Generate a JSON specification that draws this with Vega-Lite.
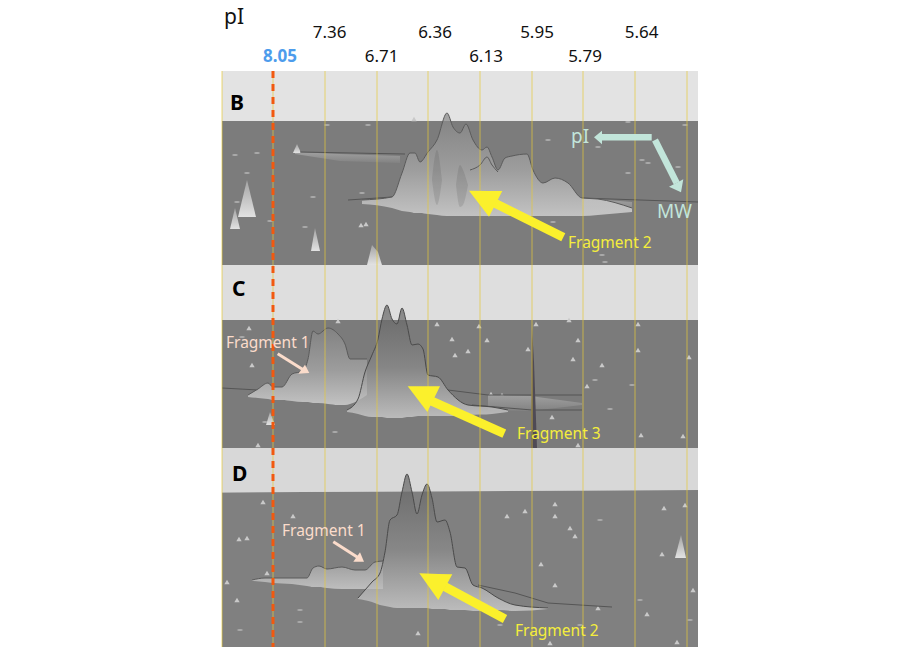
{
  "$schema": "https://vega.github.io/schema/vega-lite/v6.json",
  "description": "Three 3D 2-DE gel panels with pI positions and annotated fragments.",
  "width": 900,
  "height": 650,
  "padding": 0,
  "autosize": {"type": "fit", "contains": "padding"},
  "background": "white",
  "config": {"view": {"stroke": null}},
  "datasets": {
    "panels": [
      {"zone": "B top", "x": 222, "y": 71, "b": 121},
      {"zone": "B top", "x": 698, "y": 71, "b": 121},
      {"zone": "B gel", "x": 222, "y": 121, "b": 265},
      {"zone": "B gel", "x": 698, "y": 121, "b": 265},
      {"zone": "C top", "x": 222, "y": 265, "b": 320},
      {"zone": "C top", "x": 698, "y": 265, "b": 320},
      {"zone": "C gel", "x": 222, "y": 320, "b": 448},
      {"zone": "C gel", "x": 698, "y": 320, "b": 448},
      {"zone": "D top", "x": 222, "y": 448, "b": 492.5},
      {"zone": "D top", "x": 698, "y": 448, "b": 490},
      {"zone": "D gel", "x": 222, "y": 492.5, "b": 647},
      {"zone": "D gel", "x": 698, "y": 490, "b": 647}
    ],
    "bands": [
      {"id": "b1", "x": 295, "y": 152, "b": 154},
      {"id": "b1", "x": 340, "y": 154, "b": 161},
      {"id": "b1", "x": 400, "y": 156, "b": 163},
      {"id": "b2", "x": 582, "y": 198, "b": 216},
      {"id": "b2", "x": 632, "y": 202, "b": 212},
      {"id": "b4", "x": 488, "y": 395, "b": 410},
      {"id": "b4", "x": 530, "y": 396, "b": 411},
      {"id": "b4", "x": 582, "y": 403, "b": 405}
    ],
    "lowPeaks": [
      {"id": "B1", "x": 362, "y": 200, "b": 204},
      {"id": "B1", "x": 392, "y": 197, "b": 208},
      {"id": "B1", "x": 402, "y": 173, "b": 211},
      {"id": "B1", "x": 410, "y": 153, "b": 212},
      {"id": "B1", "x": 415, "y": 153, "b": 213},
      {"id": "B1", "x": 420, "y": 162, "b": 213},
      {"id": "B1", "x": 428, "y": 152, "b": 214},
      {"id": "B1", "x": 437, "y": 140, "b": 215},
      {"id": "B1", "x": 447, "y": 113, "b": 216},
      {"id": "B1", "x": 453, "y": 127, "b": 216},
      {"id": "B1", "x": 460, "y": 133, "b": 216},
      {"id": "B1", "x": 466, "y": 124, "b": 216},
      {"id": "B1", "x": 473, "y": 140, "b": 216},
      {"id": "B1", "x": 482, "y": 150, "b": 216},
      {"id": "B1", "x": 487, "y": 147, "b": 216},
      {"id": "B1", "x": 492, "y": 157, "b": 216},
      {"id": "B1", "x": 498, "y": 170, "b": 216},
      {"id": "B1", "x": 505, "y": 158, "b": 216},
      {"id": "B1", "x": 512, "y": 156, "b": 216},
      {"id": "B1", "x": 527, "y": 154, "b": 216},
      {"id": "B1", "x": 533, "y": 170, "b": 216},
      {"id": "B1", "x": 543, "y": 183, "b": 216},
      {"id": "B1", "x": 555, "y": 178, "b": 216},
      {"id": "B1", "x": 568, "y": 183, "b": 216},
      {"id": "B1", "x": 582, "y": 198, "b": 216},
      {"id": "B1", "x": 598, "y": 199, "b": 215},
      {"id": "B1", "x": 632, "y": 208, "b": 212},
      {"id": "C1", "x": 248, "y": 395, "b": 397},
      {"id": "C1", "x": 258, "y": 389, "b": 398},
      {"id": "C1", "x": 268, "y": 383, "b": 399},
      {"id": "C1", "x": 273, "y": 387, "b": 400},
      {"id": "C1", "x": 282, "y": 387, "b": 400},
      {"id": "C1", "x": 292, "y": 374, "b": 401},
      {"id": "C1", "x": 303, "y": 371, "b": 402},
      {"id": "C1", "x": 308, "y": 359, "b": 402},
      {"id": "C1", "x": 313, "y": 331, "b": 403},
      {"id": "C1", "x": 318, "y": 334, "b": 403},
      {"id": "C1", "x": 328, "y": 328, "b": 404},
      {"id": "C1", "x": 338, "y": 334, "b": 405},
      {"id": "C1", "x": 345, "y": 344, "b": 405},
      {"id": "C1", "x": 350, "y": 359, "b": 404},
      {"id": "C1", "x": 367, "y": 359, "b": 395}
    ],
    "paleFragment": [
      {"x": 252, "y": 580, "b": 581},
      {"x": 265, "y": 578, "b": 582},
      {"x": 273, "y": 578, "b": 583},
      {"x": 292, "y": 578, "b": 584},
      {"x": 307, "y": 578, "b": 586},
      {"x": 313, "y": 568, "b": 587},
      {"x": 319, "y": 566, "b": 587},
      {"x": 327, "y": 569, "b": 588},
      {"x": 342, "y": 567, "b": 589},
      {"x": 355, "y": 570, "b": 589},
      {"x": 365, "y": 570, "b": 589},
      {"x": 375, "y": 562, "b": 589},
      {"x": 383, "y": 561, "b": 589}
    ],
    "highPeaks": [
      {"id": "C2", "x": 347, "y": 410, "b": 412},
      {"id": "C2", "x": 358, "y": 399, "b": 414},
      {"id": "C2", "x": 365, "y": 372, "b": 416},
      {"id": "C2", "x": 372, "y": 355, "b": 417},
      {"id": "C2", "x": 378, "y": 339, "b": 417},
      {"id": "C2", "x": 382, "y": 319, "b": 417},
      {"id": "C2", "x": 387, "y": 305, "b": 418},
      {"id": "C2", "x": 392, "y": 319, "b": 418},
      {"id": "C2", "x": 397, "y": 324, "b": 418},
      {"id": "C2", "x": 402, "y": 308, "b": 418},
      {"id": "C2", "x": 407, "y": 325, "b": 417},
      {"id": "C2", "x": 412, "y": 345, "b": 417},
      {"id": "C2", "x": 418, "y": 344, "b": 416},
      {"id": "C2", "x": 423, "y": 349, "b": 416},
      {"id": "C2", "x": 428, "y": 375, "b": 416},
      {"id": "C2", "x": 438, "y": 377, "b": 416},
      {"id": "C2", "x": 448, "y": 390, "b": 416},
      {"id": "C2", "x": 468, "y": 405, "b": 415},
      {"id": "C2", "x": 492, "y": 407, "b": 414},
      {"id": "C2", "x": 508, "y": 410, "b": 412},
      {"id": "D2", "x": 358, "y": 598, "b": 599},
      {"id": "D2", "x": 372, "y": 582, "b": 602},
      {"id": "D2", "x": 380, "y": 573, "b": 605},
      {"id": "D2", "x": 385, "y": 552, "b": 606},
      {"id": "D2", "x": 390, "y": 520, "b": 607},
      {"id": "D2", "x": 397, "y": 515, "b": 608},
      {"id": "D2", "x": 402, "y": 492, "b": 608},
      {"id": "D2", "x": 407, "y": 474, "b": 608},
      {"id": "D2", "x": 412, "y": 492, "b": 608},
      {"id": "D2", "x": 417, "y": 514, "b": 608},
      {"id": "D2", "x": 422, "y": 495, "b": 608},
      {"id": "D2", "x": 427, "y": 484, "b": 608},
      {"id": "D2", "x": 432, "y": 498, "b": 609},
      {"id": "D2", "x": 437, "y": 522, "b": 609},
      {"id": "D2", "x": 445, "y": 520, "b": 609},
      {"id": "D2", "x": 450, "y": 532, "b": 610},
      {"id": "D2", "x": 457, "y": 567, "b": 610},
      {"id": "D2", "x": 465, "y": 568, "b": 610},
      {"id": "D2", "x": 473, "y": 585, "b": 611},
      {"id": "D2", "x": 482, "y": 588, "b": 611},
      {"id": "D2", "x": 498, "y": 598, "b": 610},
      {"id": "D2", "x": 515, "y": 605, "b": 611},
      {"id": "D2", "x": 548, "y": 608, "b": 609}
    ],
    "streaks": [
      {"id": "t1", "x": 456, "y": 185, "b": 185},
      {"id": "t1", "x": 460, "y": 165, "b": 207},
      {"id": "t1", "x": 463, "y": 170, "b": 205},
      {"id": "t1", "x": 468, "y": 185, "b": 185},
      {"id": "t3", "x": 432, "y": 180, "b": 180},
      {"id": "t3", "x": 437, "y": 150, "b": 205},
      {"id": "t3", "x": 442, "y": 180, "b": 180}
    ],
    "spikes": [
      {"id": "s1", "x": 238, "y": 217, "b": 217},
      {"id": "s1", "x": 247, "y": 180, "b": 217},
      {"id": "s1", "x": 256, "y": 217, "b": 217},
      {"id": "s2", "x": 230, "y": 229, "b": 229},
      {"id": "s2", "x": 235, "y": 208, "b": 229},
      {"id": "s2", "x": 240, "y": 229, "b": 229},
      {"id": "s3", "x": 311, "y": 251, "b": 251},
      {"id": "s3", "x": 315, "y": 228, "b": 251},
      {"id": "s3", "x": 320, "y": 251, "b": 251},
      {"id": "s4", "x": 367, "y": 265, "b": 265},
      {"id": "s4", "x": 372, "y": 245, "b": 265},
      {"id": "s4", "x": 378, "y": 252, "b": 265},
      {"id": "s4", "x": 382, "y": 265, "b": 265},
      {"id": "s5", "x": 293, "y": 153, "b": 153},
      {"id": "s5", "x": 297, "y": 144, "b": 153},
      {"id": "s5", "x": 301, "y": 153, "b": 153},
      {"id": "s6", "x": 266, "y": 425, "b": 425},
      {"id": "s6", "x": 270, "y": 412, "b": 425},
      {"id": "s6", "x": 275, "y": 425, "b": 425},
      {"id": "s7", "x": 675, "y": 558, "b": 558},
      {"id": "s7", "x": 681, "y": 535, "b": 558},
      {"id": "s7", "x": 686, "y": 558, "b": 558}
    ],
    "darkSpike": [
      {"x": 531, "y": 448, "b": 448},
      {"x": 532, "y": 327, "b": 448},
      {"x": 534, "y": 362, "b": 448},
      {"x": 537, "y": 448, "b": 448}
    ],
    "ridges": [
      {"id": "r1", "x": 300, "y": 152},
      {"id": "r1", "x": 405, "y": 154},
      {"id": "r2", "x": 348, "y": 200},
      {"id": "r2", "x": 392, "y": 197},
      {"id": "r3", "x": 582, "y": 198},
      {"id": "r3", "x": 698, "y": 202},
      {"id": "r4", "x": 222, "y": 388},
      {"id": "r4", "x": 258, "y": 390},
      {"id": "r5", "x": 448, "y": 390},
      {"id": "r5", "x": 488, "y": 395},
      {"id": "r5", "x": 582, "y": 395},
      {"id": "r6", "x": 472, "y": 405},
      {"id": "r6", "x": 532, "y": 410},
      {"id": "r6", "x": 582, "y": 410},
      {"id": "r7", "x": 478, "y": 585},
      {"id": "r7", "x": 515, "y": 593},
      {"id": "r7", "x": 548, "y": 603},
      {"id": "r7", "x": 612, "y": 607}
    ],
    "innerRidge": [
      {"x": 470, "y": 170},
      {"x": 480, "y": 165},
      {"x": 487, "y": 157},
      {"x": 492, "y": 165},
      {"x": 498, "y": 172}
    ],
    "cones": [
      {"x": 361, "y": 225}, {"x": 366, "y": 224}, {"x": 414, "y": 119},
      {"x": 249, "y": 328}, {"x": 258, "y": 445}, {"x": 552, "y": 417}, {"x": 602, "y": 365},
      {"x": 638, "y": 350}, {"x": 573, "y": 359}, {"x": 587, "y": 386}, {"x": 641, "y": 435},
      {"x": 578, "y": 445}, {"x": 683, "y": 436}, {"x": 689, "y": 357}, {"x": 455, "y": 355},
      {"x": 468, "y": 351}, {"x": 452, "y": 339}, {"x": 437, "y": 324}, {"x": 479, "y": 326},
      {"x": 536, "y": 324}, {"x": 569, "y": 320}, {"x": 638, "y": 324}, {"x": 491, "y": 394},
      {"x": 502, "y": 395}, {"x": 338, "y": 321}, {"x": 252, "y": 365}, {"x": 528, "y": 349},
      {"x": 578, "y": 340}, {"x": 487, "y": 340},
      {"x": 263, "y": 502}, {"x": 293, "y": 516}, {"x": 239, "y": 539}, {"x": 247, "y": 538},
      {"x": 227, "y": 582}, {"x": 507, "y": 516}, {"x": 525, "y": 511}, {"x": 555, "y": 516},
      {"x": 555, "y": 504}, {"x": 570, "y": 528}, {"x": 575, "y": 536}, {"x": 541, "y": 564},
      {"x": 598, "y": 608}, {"x": 647, "y": 614}, {"x": 664, "y": 508}, {"x": 685, "y": 505},
      {"x": 555, "y": 585}, {"x": 662, "y": 554}, {"x": 693, "y": 590}, {"x": 418, "y": 633},
      {"x": 550, "y": 643}, {"x": 677, "y": 642}, {"x": 237, "y": 600}, {"x": 267, "y": 573}
    ],
    "flecks": [
      {"x": 235, "y": 155}, {"x": 257, "y": 153}, {"x": 247, "y": 173}, {"x": 237, "y": 202},
      {"x": 270, "y": 221}, {"x": 305, "y": 227}, {"x": 362, "y": 193}, {"x": 368, "y": 125},
      {"x": 628, "y": 122}, {"x": 685, "y": 125}, {"x": 553, "y": 222}, {"x": 602, "y": 255},
      {"x": 605, "y": 262}, {"x": 642, "y": 160}, {"x": 648, "y": 163}, {"x": 628, "y": 173},
      {"x": 678, "y": 167}, {"x": 598, "y": 147}, {"x": 313, "y": 197}, {"x": 548, "y": 140},
      {"x": 327, "y": 125}, {"x": 242, "y": 337}, {"x": 595, "y": 380}, {"x": 632, "y": 385},
      {"x": 610, "y": 409}, {"x": 475, "y": 422}, {"x": 335, "y": 432}, {"x": 265, "y": 422},
      {"x": 240, "y": 630}, {"x": 300, "y": 622}, {"x": 500, "y": 625}, {"x": 580, "y": 625},
      {"x": 640, "y": 600}, {"x": 690, "y": 620}, {"x": 600, "y": 520}, {"x": 300, "y": 610}
    ],
    "gridlines": [
      {"x": 222, "y": 71, "y2": 647}, {"x": 273, "y": 71, "y2": 647}, {"x": 325, "y": 71, "y2": 647},
      {"x": 377, "y": 71, "y2": 647}, {"x": 428, "y": 71, "y2": 647}, {"x": 480, "y": 71, "y2": 647},
      {"x": 532, "y": 71, "y2": 647}, {"x": 583, "y": 71, "y2": 647}, {"x": 635, "y": 71, "y2": 647},
      {"x": 687, "y": 71, "y2": 647}
    ],
    "shafts": [
      {"x": 495, "y": 203.3, "x2": 563.3, "y2": 237.3},
      {"x": 430, "y": 400.3, "x2": 504.3, "y2": 433.7},
      {"x": 445, "y": 586.7, "x2": 505, "y2": 619}
    ],
    "heads": [
      {"id": "B", "x": 469, "y": 190.7, "b": 190.7},
      {"id": "B", "x": 489, "y": 190.9, "b": 216.7},
      {"id": "B", "x": 502.3, "y": 191, "b": 191},
      {"id": "C", "x": 407.7, "y": 386.3, "b": 386.3},
      {"id": "C", "x": 427.3, "y": 386.3, "b": 412},
      {"id": "C", "x": 440, "y": 386.3, "b": 386.3},
      {"id": "D", "x": 419.3, "y": 573.3, "b": 573.3},
      {"id": "D", "x": 438.3, "y": 573.9, "b": 600},
      {"id": "D", "x": 452.3, "y": 574.3, "b": 574.3}
    ],
    "pinkShafts": [
      {"x": 277.7, "y": 353.7, "x2": 306, "y2": 371.5},
      {"x": 333.3, "y": 541.7, "x2": 361, "y2": 559.5}
    ],
    "pinkHeads": [
      {"id": "C", "x": 298.3, "y": 373.7, "b": 373.7},
      {"id": "C", "x": 305, "y": 364.7, "b": 373.3},
      {"id": "C", "x": 309.3, "y": 373, "b": 373},
      {"id": "D", "x": 353.3, "y": 561.7, "b": 561.7},
      {"id": "D", "x": 360, "y": 552.3, "b": 561.7},
      {"id": "D", "x": 364, "y": 561.7, "b": 561.7}
    ],
    "mintShafts": [
      {"x": 651.7, "y": 137.3, "x2": 601, "y2": 137.3},
      {"x": 655, "y": 140, "x2": 676.7, "y2": 183}
    ],
    "mintHeads": [
      {"id": "left", "x": 594, "y": 137.3, "b": 137.3},
      {"id": "left", "x": 602, "y": 130.7, "b": 144.3},
      {"id": "down", "x": 669, "y": 186.7, "b": 186.7},
      {"id": "down", "x": 681, "y": 180.5, "b": 192.3},
      {"id": "down", "x": 683.3, "y": 179.3, "b": 179.3}
    ],
    "ticksTop": [
      {"x": 329.7, "y": 38, "label": "7.36"},
      {"x": 435, "y": 38, "label": "6.36"},
      {"x": 537, "y": 38, "label": "5.95"},
      {"x": 641.7, "y": 38, "label": "5.64"},
      {"x": 381.7, "y": 62, "label": "6.71"},
      {"x": 486, "y": 62, "label": "6.13"},
      {"x": 585, "y": 62, "label": "5.79"}
    ],
    "notesMajor": [
      {"x": 568, "y": 248, "label": "Fragment 2"},
      {"x": 517, "y": 439, "label": "Fragment 3"},
      {"x": 515, "y": 636, "label": "Fragment 2"}
    ],
    "notesMinor": [
      {"x": 226, "y": 348, "label": "Fragment 1"},
      {"x": 282, "y": 536, "label": "Fragment 1"}
    ],
    "directions": [
      {"x": 571, "y": 143, "label": "pI"},
      {"x": 657, "y": 218, "label": "MW"}
    ],
    "letters": [
      {"x": 230, "y": 110, "label": "B"},
      {"x": 232, "y": 296, "label": "C"},
      {"x": 232, "y": 481, "label": "D"}
    ]
  },
  "encoding": {
    "x": {"field": "x", "type": "quantitative", "scale": {"domain": [0, 900]}, "axis": null},
    "y": {"field": "y", "type": "quantitative", "scale": {"domain": [650, 0]}, "axis": null}
  },
  "layer": [
    {
      "data": {"name": "panels"},
      "mark": {"type": "area", "orient": "vertical"},
      "encoding": {
        "y2": {"field": "b"},
        "color": {
          "field": "zone",
          "type": "nominal",
          "legend": null,
          "scale": {
            "domain": ["B top", "B gel", "C top", "C gel", "D top", "D gel"],
            "range": ["#e3e3e3", "#7c7c7c", "#dedede", "#7b7b7b", "#d8d8d8", "#808080"]
          }
        }
      }
    },
    {
      "data": {"name": "flecks"},
      "mark": {"type": "point", "filled": true, "opacity": 1, "size": 45, "color": "#a9a9a9", "shape": "M-1,0L-0.4,-0.3L0.4,-0.3L1,0L0.4,0.3L-0.4,0.3Z"}
    },
    {
      "data": {"name": "cones"},
      "mark": {"type": "point", "filled": true, "opacity": 1, "size": 28, "color": "#c9c9c9", "shape": "triangle-up"}
    },
    {
      "data": {"name": "bands"},
      "mark": {
        "type": "area",
        "orient": "vertical",
        "color": {"gradient": "linear", "x1": 0, "y1": 0, "x2": 0, "y2": 1, "stops": [{"offset": 0, "color": "#a0a0a0"}, {"offset": 1, "color": "#828282"}]}
      },
      "encoding": {"y2": {"field": "b"}, "detail": {"field": "id"}}
    },
    {
      "data": {"name": "spikes"},
      "mark": {
        "type": "area",
        "orient": "vertical",
        "color": {"gradient": "linear", "x1": 0, "y1": 0, "x2": 0, "y2": 1, "stops": [{"offset": 0, "color": "#a4a4a4"}, {"offset": 1, "color": "#e2e2e2"}]}
      },
      "encoding": {"y2": {"field": "b"}, "detail": {"field": "id"}}
    },
    {
      "data": {"name": "ridges"},
      "mark": {"type": "line", "color": "#555555", "strokeWidth": 1},
      "encoding": {"detail": {"field": "id"}}
    },
    {
      "data": {"name": "lowPeaks"},
      "mark": {
        "type": "area",
        "orient": "vertical",
        "interpolate": "monotone",
        "line": {"color": "#5a5a5a", "strokeWidth": 1},
        "color": {"gradient": "linear", "x1": 0, "y1": 0, "x2": 0, "y2": 1, "stops": [{"offset": 0, "color": "#858585"}, {"offset": 0.55, "color": "#ababab"}, {"offset": 1, "color": "#e0e0e0"}]}
      },
      "encoding": {"y2": {"field": "b"}, "detail": {"field": "id"}}
    },
    {
      "data": {"name": "paleFragment"},
      "mark": {
        "type": "area",
        "orient": "vertical",
        "interpolate": "monotone",
        "line": {"color": "#5a5a5a", "strokeWidth": 1},
        "color": {"gradient": "linear", "x1": 0, "y1": 0, "x2": 0, "y2": 1, "stops": [{"offset": 0, "color": "#a8a8a8"}, {"offset": 1, "color": "#d8d8d8"}]}
      },
      "encoding": {"y2": {"field": "b"}}
    },
    {
      "data": {"name": "highPeaks"},
      "mark": {
        "type": "area",
        "orient": "vertical",
        "interpolate": "monotone",
        "line": {"color": "#4a4a4a", "strokeWidth": 1},
        "color": {"gradient": "linear", "x1": 0, "y1": 0, "x2": 0, "y2": 1, "stops": [{"offset": 0, "color": "#606060"}, {"offset": 0.55, "color": "#8a8a8a"}, {"offset": 1, "color": "#d6d6d6"}]}
      },
      "encoding": {"y2": {"field": "b"}, "detail": {"field": "id"}}
    },
    {
      "data": {"name": "streaks"},
      "mark": {"type": "area", "orient": "vertical", "interpolate": "monotone", "color": "#3c3c3c", "opacity": 0.14},
      "encoding": {"y2": {"field": "b"}, "detail": {"field": "id"}}
    },
    {
      "data": {"name": "innerRidge"},
      "mark": {"type": "line", "interpolate": "monotone", "color": "#5a5a5a", "strokeWidth": 1}
    },
    {
      "data": {"name": "darkSpike"},
      "mark": {"type": "area", "orient": "vertical", "color": "#4f4a55"},
      "encoding": {"y2": {"field": "b"}}
    },
    {
      "data": {"name": "gridlines"},
      "mark": {"type": "rule", "color": "#e6c93a", "strokeWidth": 1, "opacity": 0.7},
      "encoding": {"y2": {"field": "y2"}}
    },
    {
      "data": {"values": [{"x": 273, "y": 71, "y2": 647}]},
      "mark": {"type": "rule", "color": "#f2590f", "strokeWidth": 3, "strokeDash": [7, 6]},
      "encoding": {"y2": {"field": "y2"}}
    },
    {
      "data": {"name": "shafts"},
      "mark": {"type": "rule", "color": "#fbf02c", "strokeWidth": 9},
      "encoding": {"x2": {"field": "x2"}, "y2": {"field": "y2"}}
    },
    {
      "data": {"name": "heads"},
      "mark": {"type": "area", "orient": "vertical", "color": "#fbf02c"},
      "encoding": {"y2": {"field": "b"}, "detail": {"field": "id"}}
    },
    {
      "data": {"name": "pinkShafts"},
      "mark": {"type": "rule", "color": "#fbdccb", "strokeWidth": 3},
      "encoding": {"x2": {"field": "x2"}, "y2": {"field": "y2"}}
    },
    {
      "data": {"name": "pinkHeads"},
      "mark": {"type": "area", "orient": "vertical", "color": "#fbdccb"},
      "encoding": {"y2": {"field": "b"}, "detail": {"field": "id"}}
    },
    {
      "data": {"name": "mintShafts"},
      "mark": {"type": "rule", "color": "#c2e5da", "strokeWidth": 6.5},
      "encoding": {"x2": {"field": "x2"}, "y2": {"field": "y2"}}
    },
    {
      "data": {"name": "mintHeads"},
      "mark": {"type": "area", "orient": "vertical", "color": "#c2e5da"},
      "encoding": {"y2": {"field": "b"}, "detail": {"field": "id"}}
    },
    {
      "data": {"name": "ticksTop"},
      "mark": {"type": "text", "font": "Noto Sans", "fontSize": 17, "color": "#111111", "align": "center", "baseline": "alphabetic"},
      "encoding": {"text": {"field": "label"}}
    },
    {
      "data": {"values": [{"x": 280, "y": 62, "label": "8.05"}]},
      "mark": {"type": "text", "font": "Noto Sans", "fontSize": 17, "fontWeight": "bold", "color": "#4d9cec", "align": "center", "baseline": "alphabetic"},
      "encoding": {"text": {"field": "label"}}
    },
    {
      "data": {"values": [{"x": 224, "y": 24, "label": "pI"}]},
      "mark": {"type": "text", "font": "Noto Sans", "fontSize": 21, "color": "#111111", "align": "left", "baseline": "alphabetic"},
      "encoding": {"text": {"field": "label"}}
    },
    {
      "data": {"name": "letters"},
      "mark": {"type": "text", "font": "Noto Sans", "fontSize": 21, "fontWeight": "bold", "color": "#000000", "align": "left", "baseline": "alphabetic"},
      "encoding": {"text": {"field": "label"}}
    },
    {
      "data": {"name": "notesMajor"},
      "mark": {"type": "text", "font": "Noto Sans", "fontSize": 15.5, "color": "#f5ee3c", "align": "left", "baseline": "alphabetic"},
      "encoding": {"text": {"field": "label"}}
    },
    {
      "data": {"name": "notesMinor"},
      "mark": {"type": "text", "font": "Noto Sans", "fontSize": 15.5, "color": "#fbdccb", "align": "left", "baseline": "alphabetic"},
      "encoding": {"text": {"field": "label"}}
    },
    {
      "data": {"name": "directions"},
      "mark": {"type": "text", "font": "Noto Sans", "fontSize": 19, "color": "#c2e5da", "align": "left", "baseline": "alphabetic"},
      "encoding": {"text": {"field": "label"}}
    }
  ]
}
